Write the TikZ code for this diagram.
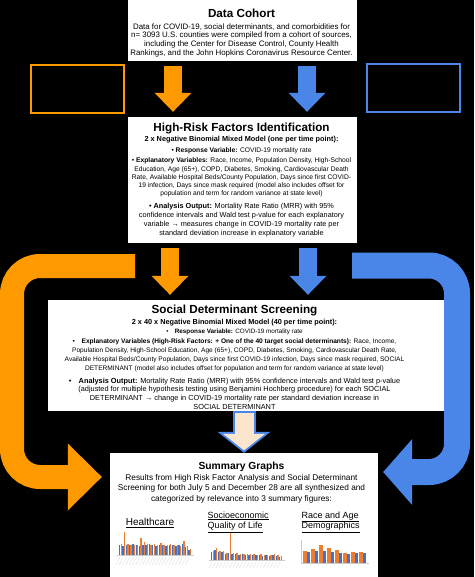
\documentclass[tikz,border=0pt]{standalone}
\usepackage{fontspec}
\setmainfont{Liberation Sans}
\usetikzlibrary{arrows.meta}
\definecolor{naranja}{HTML}{FF9900}
\definecolor{azul}{HTML}{4A86E8}
\definecolor{melocoton}{HTML}{FCE5CD}
\definecolor{barazul}{HTML}{4472C4}
\definecolor{barnaranja}{HTML}{ED7D31}
\newcommand{\boxtitle}{\fontsize{11.7}{14}\selectfont\bfseries}
\tikzset{
  whitebox/.style={fill=white, draw=none, inner sep=0pt},
  boxtext/.style={inner sep=0pt, align=flush center},
  downflow/.style={line width=18pt, -{Triangle[length=19pt,width=37pt,line width=0pt]}, shorten <=5pt, shorten >=5pt},
  uband/.style={rounded corners=28pt},
  emptyframe/.style={draw, line width=2pt, minimum width=93pt, minimum height=48pt},
  catlabel/.style={align=left, font={\fontsize{9}{10.6}\selectfont}, inner sep=0pt},
}
\begin{document}
\begin{tikzpicture}[x=1pt, y=-1pt]
    % Fondo
    \useasboundingbox (0,0) rectangle (474,577);
    \fill[black] (0,0) rectangle (474,577);

    % Columnas de las flechas
    \coordinate (orangeA) at (173,0);
    \coordinate (orangeB) at (170,0);
    \coordinate (blueA) at (307,0);
    \coordinate (blueB) at (308,0);
    \coordinate (midflow) at (244,0);
    \coordinate (orangestart) at (135,266);
    \coordinate (orangelow) at (12,477);
    \coordinate (bluestart) at (352,265.5);
    \coordinate (bluelow) at (457,472);

    % Cajas
    \node[whitebox, minimum width=229pt, minimum height=61pt] (cohort) at (242.5,30.5) {};
    \node[whitebox, minimum width=229pt, minimum height=126pt] (riskfactors) at (242.5,180) {};
    \node[whitebox, minimum width=399pt, minimum height=111pt] (screening) at (247.5,355.5) {};
    \node[whitebox, minimum width=268pt, minimum height=130pt] (summary) at (244,518) {};

    % Marcos vacios
    \node[emptyframe, draw=naranja] (orangeframe) at (77.5,89) {};
    \node[emptyframe, draw=azul] (blueframe) at (413.5,88.5) {};

    % Datos
    \node[boxtext, text width=229pt, xshift=-1pt, yshift=-2.5pt] (cohorttext) at (cohort.center) {%
      {\boxtitle Data Cohort\par}
      \vspace{3.1pt}
      {\fontsize{7.9}{8.9}\selectfont Data for COVID-19, social determinants, and comorbidities for\\
      n= 3093 U.S. counties were compiled from a cohort of sources,\\
      including the Center for Disease Control, County Health\\
      Rankings, and the John Hopkins Coronavirus Resource Center.\par}};

    % Factores de riesgo
    \node[boxtext, text width=229pt, xshift=-1pt] (riskfactorstext) at (riskfactors.center) {%
      {\boxtitle High-Risk Factors Identification\par}
      {\fontsize{7.3}{9.6}\selectfont\bfseries 2 x Negative Binomial Mixed Model (one per time point):\par}
      {\fontsize{6.7}{11.5}\selectfont\textbullet\ \textbf{Response Variable:} COVID-19 mortality rate\par}
      \vspace{2.2pt}
      {\fontsize{6.7}{8.2}\selectfont\textbullet\ \textbf{Explanatory Variables:} Race, Income, Population Density, High-School\\
      Education, Age (65+), COPD, Diabetes, Smoking, Cardiovascular Death\\
      Rate, Available Hospital Beds/County Population, Days since first COVID-\\
      19 infection, Days since mask required (model also includes offset for\\
      population and term for random variance at state level)\par}
      \vspace{3.7pt}
      {\fontsize{7.3}{9}\selectfont\textbullet\ \textbf{Analysis Output:} Mortality Rate Ratio (MRR) with 95\%\\
      confidence intervals and Wald test p-value for each explanatory\\
      variable → measures change in COVID-19 mortality rate per\\
      standard deviation increase in explanatory variable\par}};

    % Cribado
    \node[boxtext, text width=399pt, xshift=-13pt, yshift=-2pt] (screeningtext) at (screening.center) {%
      {\boxtitle Social Determinant Screening\par}
      {\fontsize{7.3}{10.4}\selectfont\bfseries 2 x 40 x Negative Binomial Mixed Model (40 per time point):\par}
      {\fontsize{6.3}{9.7}\selectfont\textbullet\quad\textbf{Response Variable:} COVID-19 mortality rate\par}
      \vspace{0.6pt}
      {\fontsize{6.6}{9.1}\selectfont\textbullet\quad\textbf{Explanatory Variables (High-Risk Factors: + One of the 40 target social determinants):} Race, Income,\\
      Population Density, High-School Education, Age (65+), COPD, Diabetes, Smoking, Cardiovascular Death Rate,\\
      Available Hospital Beds/County Population, Days since first COVID-19 infection, Days since mask required, SOCIAL\\
      DETERMINANT (model also includes offset for population and term for random variance at state level)\par}
      \vspace{3.4pt}
      {\fontsize{7.35}{8.9}\selectfont\textbullet\quad\textbf{Analysis Output:} Mortality Rate Ratio (MRR) with 95\% confidence intervals and Wald test p-value\\
      (adjusted for multiple hypothesis testing using Benjamini Hochberg procedure) for each SOCIAL\\
      DETERMINANT → change in COVID-19 mortality rate per standard deviation increase in\\
      SOCIAL DETERMINANT\par}};

    % Resumen
    \node[boxtext, anchor=north, text width=268pt, xshift=-2.5pt] (summarytext) at (summary.north |- 0,462) {%
      {\fontsize{10.3}{12}\selectfont\bfseries Summary Graphs\par}
      {\fontsize{8.3}{10.5}\selectfont Results from High Risk Factor Analysis and Social Determinant\\
      Screening for both July 5 and December 28 are all synthesized and\\
      categorized by relevance into 3 summary figures:\par}};
    \node[catlabel, font={\fontsize{10}{12}\selectfont}] (healthcare) at (150,523) {\underline{Healthcare}};
    \node[catlabel, anchor=west] (socio) at (207.5,522) {\underline{Socioeconomic}\\\underline{Quality of Life}};
    \node[catlabel, anchor=west] (demog) at (301.5,522) {\underline{Race and Age}\\\underline{Demographics}};

    % Flechas verticales
    \draw[downflow, naranja] (cohort.south -| orangeA) -- (riskfactors.north -| orangeA);
    \draw[downflow, azul] (cohort.south -| blueA) -- (riskfactors.north -| blueA);
    \draw[downflow, naranja] (riskfactors.south -| orangeB) -- (screening.north -| orangeB);
    \draw[downflow, azul] (riskfactors.south -| blueB) -- (screening.north -| blueB);

    % Flecha central
    \draw[line width=23pt, azul, -{Triangle[length=21pt,width=53pt,line width=0pt]}] (screening.south -| midflow) -- (summary.north -| midflow);
    \draw[line width=19pt, melocoton, -{Triangle[length=16.5pt,width=42pt,line width=0pt]}, shorten <=1.5pt, shorten >=2.5pt] (screening.south -| midflow) -- (summary.north -| midflow);

    % Flechas en U
    \draw[uband, line width=24pt, naranja, -{Triangle[length=34pt,width=67pt,line width=0pt]}, shorten >=8pt]
      (orangestart) -- (orangestart -| orangelow) -- (orangelow) -- (summary.west |- orangelow);
    \draw[uband, line width=26pt, azul, -{Triangle[length=29pt,width=66pt,line width=0pt]}, shorten >=5pt]
      (bluestart) -- (bluestart -| bluelow) -- (bluelow) -- (summary.east |- bluelow);

    % Graficos de barras
    \draw[gray!40, line width=0.4pt] (117,555) -- (194,555);
    \foreach \i/\hb/\ho in {0/10/11, 1/9/23, 2/10/11, 3/10/10, 4/11/10, 5/10/10, 6/9/17, 7/10/13, 8/10/11, 9/11/10, 10/10/11,
                            11/9/10, 12/10/12, 13/10/10, 14/9/10, 15/10/11, 16/10/10, 17/9/10, 18/10/9, 19/11/14, 20/8/9, 21/5/6} {
      \fill[barazul] (119+3.3*\i,555) rectangle ++(1.4,-\hb);
      \fill[barnaranja] (120.5+3.3*\i,555) rectangle ++(1.4,-\ho);
      \draw[gray!25, line width=0.4pt] (120+3.3*\i,557) -- ++(-4,8);
    }
    \draw[gray!40, line width=0.4pt] (209,560) -- (285,560);
    \foreach \i/\hb/\ho in {0/8/9, 1/10/12, 2/8/9, 3/8/9, 4/6/7, 5/7/27, 6/6/7, 7/6/7, 8/5/6, 9/6/6, 10/5/6,
                            11/5/6, 12/5/6, 13/5/5, 14/5/6, 15/4/5, 16/5/5, 17/4/5, 18/5/6, 19/4/5, 20/3/4} {
      \fill[barazul] (211+3.4*\i,560) rectangle ++(1.4,-\hb);
      \fill[barnaranja] (212.5+3.4*\i,560) rectangle ++(1.4,-\ho);
      \draw[gray!25, line width=0.4pt] (212+3.4*\i,562) -- ++(-3,6);
    }
    \draw[gray!40, line width=0.4pt] (301,563) -- (369,563);
    \draw[gray!40, line width=0.4pt] (301,563) -- (301,540);
    \foreach \i/\hb/\ho in {0/11/12, 1/12/14, 2/12/18, 3/11/15, 4/10/13, 5/9/10, 6/10/11, 7/10/11} {
      \fill[barnaranja] (303+8*\i,563) rectangle ++(3.5,-\ho);
      \fill[barazul] (306.5+8*\i,563) rectangle ++(3.5,-\hb);
    }
\end{tikzpicture}
\end{document}
